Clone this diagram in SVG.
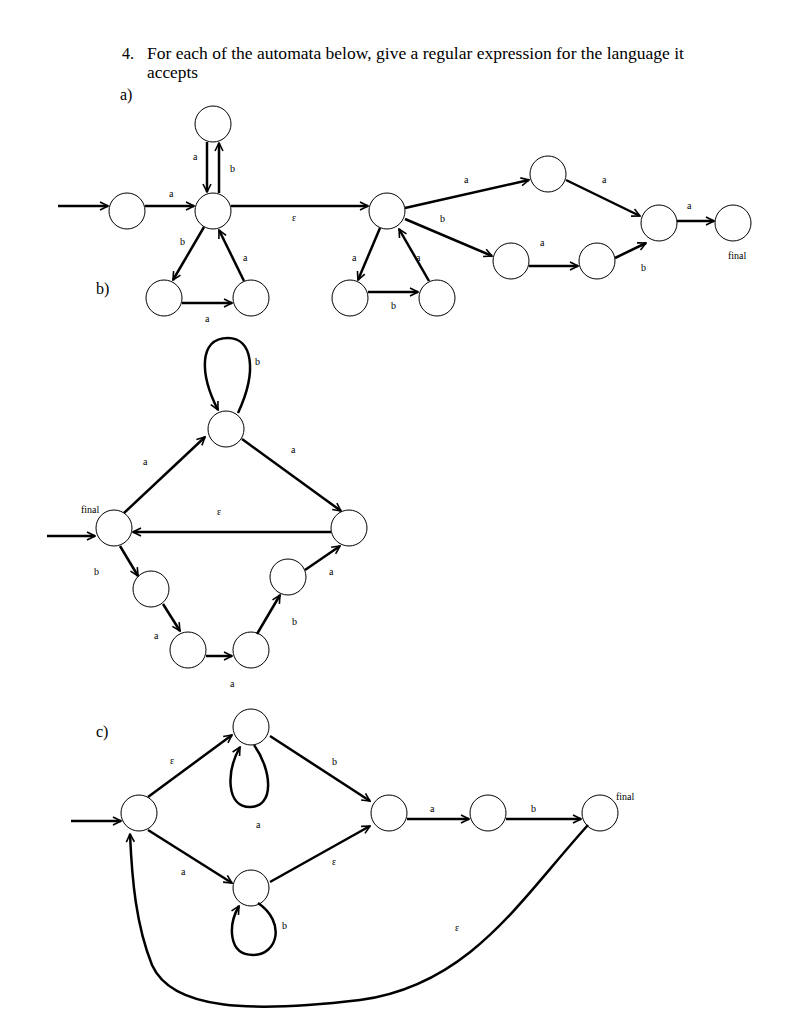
<svg xmlns="http://www.w3.org/2000/svg" width="800" height="1027" viewBox="0 0 800 1027">
<style>
.n{fill:#fff;stroke:#000;stroke-width:1}
.e{fill:none;stroke:#000;stroke-width:2.5;marker-end:url(#ah)}
.t{font-family:"Liberation Serif",serif;font-size:16px;fill:#000}
.l{font-family:"Liberation Serif",serif;font-size:10px;fill:#000}
</style>
<defs><marker id="ah" viewBox="0 0 10 10" refX="9" refY="5" markerWidth="4" markerHeight="4" orient="auto" markerUnits="strokeWidth"><path d="M1,1 L9,5 L1,9" fill="none" stroke="#000" stroke-width="1.6"/></marker></defs>
<g id="title">
<text class="t" x="122" y="59">4.</text>
<text class="t" x="147" y="59" textLength="537" lengthAdjust="spacingAndGlyphs">For each of the automata below, give a regular expression for the language it</text>
<text class="t" x="147" y="78" textLength="51" lengthAdjust="spacingAndGlyphs">accepts</text>
<text class="t" x="120" y="100">a)</text>
<text class="t" x="96" y="294">b)</text>
<text class="t" x="96" y="737">c)</text>
</g>
<g id="nodes">
<circle id="a0" class="n" cx="127" cy="211" r="18"/>
<circle id="aT" class="n" cx="213" cy="124" r="18"/>
<circle id="aC" class="n" cx="213" cy="211" r="18"/>
<circle id="aBL" class="n" cx="164" cy="298" r="18"/>
<circle id="aBR" class="n" cx="251" cy="298" r="18"/>
<circle id="a1" class="n" cx="387" cy="211" r="18"/>
<circle id="aBL2" class="n" cx="350" cy="298" r="18"/>
<circle id="aBR2" class="n" cx="437" cy="298" r="18"/>
<circle id="aU" class="n" cx="548" cy="174" r="18"/>
<circle id="aN1" class="n" cx="511" cy="261" r="18"/>
<circle id="aN2" class="n" cx="597" cy="261" r="18"/>
<circle id="aN3" class="n" cx="659" cy="223" r="18"/>
<circle id="aF" class="n" cx="733" cy="223" r="18"/>
<circle id="b0" class="n" cx="114" cy="528" r="18"/>
<circle id="bT" class="n" cx="226" cy="429" r="18"/>
<circle id="bR" class="n" cx="349" cy="528" r="18"/>
<circle id="b1" class="n" cx="151" cy="589" r="18"/>
<circle id="b2" class="n" cx="188" cy="650" r="18"/>
<circle id="b3" class="n" cx="251" cy="650" r="18"/>
<circle id="b4" class="n" cx="288" cy="577" r="18"/>
<circle id="c0" class="n" cx="139" cy="813" r="18"/>
<circle id="cU" class="n" cx="251" cy="727" r="18"/>
<circle id="cL" class="n" cx="251" cy="888" r="18"/>
<circle id="cM" class="n" cx="389" cy="813" r="18"/>
<circle id="cN" class="n" cx="488" cy="813" r="18"/>
<circle id="cF" class="n" cx="600" cy="813" r="18"/>
</g>
<g id="connectors">
<path class="e" d="M58,206 L108,206"/>
<path class="e" d="M145,206 L194,206"/>
<path class="e" d="M207,142 L207,192"/>
<path class="e" d="M219,193 L219,143"/>
<path class="e" d="M231,206 L368,206"/>
<path class="e" d="M204,227 L173,280"/>
<path class="e" d="M182,303 L232,303"/>
<path class="e" d="M244,281 L219,230"/>
<path class="e" d="M380,228 L358,280"/>
<path class="e" d="M368,292 L418,292"/>
<path class="e" d="M429,281 L399,229"/>
<path class="e" d="M405,208 L529,180"/>
<path class="e" d="M405,219 L492,256"/>
<path class="e" d="M529,266 L578,266"/>
<path class="e" d="M566,180 L640,216"/>
<path class="e" d="M615,258 L646,243"/>
<path class="e" d="M677,221 L714,221"/>
<path class="e" d="M47,536 L95,536"/>
<path class="e" d="M124,513 L205,437"/>
<path class="e" d="M242,439 L341,511"/>
<path class="e" d="M331,532 L133,532"/>
<path class="e" d="M238,413 C258,370 252,338 228,338 C198,338 200,375 218,410"/>
<path class="e" d="M120,546 L138,576"/>
<path class="e" d="M163,604 L180,631"/>
<path class="e" d="M206,656 L232,656"/>
<path class="e" d="M257,634 L280,595"/>
<path class="e" d="M305,570 L340,546"/>
<path class="e" d="M71,821 L121,821"/>
<path class="e" d="M148,797 L232,735"/>
<path class="e" d="M270,736 L370,801"/>
<path class="e" d="M148,830 L232,883"/>
<path class="e" d="M270,882 L370,826"/>
<path class="e" d="M407,819 L469,819"/>
<path class="e" d="M506,819 L581,819"/>
<path class="e" d="M254,745 C272,770 275,807 250,807 C226,807 226,772 240,747"/>
<path class="e" d="M258,903 C286,922 278,955 253,955 C228,955 228,925 239,906"/>
<path class="e" d="M588,825 C520,900 470,985 360,1000 C250,1013 172,1010 152,965 C136,925 132,880 130,834"/>
</g>
<g id="labels">
<text class="l" x="193" y="160">a</text><text class="l" x="230" y="172">b</text>
<text class="l" x="169" y="197">a</text><text class="l" x="292" y="221">ε</text>
<text class="l" x="180" y="245">b</text><text class="l" x="243" y="261">a</text>
<text class="l" x="205" y="322">a</text>
<text class="l" x="352" y="261">a</text><text class="l" x="416" y="261">a</text>
<text class="l" x="391" y="309">b</text>
<text class="l" x="464" y="183">a</text><text class="l" x="440" y="222">b</text>
<text class="l" x="602" y="183">a</text><text class="l" x="540" y="246">a</text>
<text class="l" x="641" y="271">b</text><text class="l" x="687" y="209">a</text>
<text class="l" x="728" y="259">final</text>
<text class="l" x="255" y="365">b</text><text class="l" x="143" y="465">a</text>
<text class="l" x="291" y="453">a</text><text class="l" x="81" y="513">final</text>
<text class="l" x="217" y="515">ε</text><text class="l" x="94" y="575">b</text>
<text class="l" x="329" y="575">a</text><text class="l" x="292" y="625">b</text>
<text class="l" x="154" y="639">a</text><text class="l" x="230" y="687">a</text>
<text class="l" x="170" y="764">ε</text><text class="l" x="332" y="765">b</text>
<text class="l" x="256" y="828">a</text><text class="l" x="181" y="875">a</text>
<text class="l" x="332" y="865">ε</text><text class="l" x="282" y="929">b</text>
<text class="l" x="455" y="931">ε</text><text class="l" x="430" y="812">a</text>
<text class="l" x="531" y="812">b</text><text class="l" x="616" y="800">final</text>
</g>
</svg>
